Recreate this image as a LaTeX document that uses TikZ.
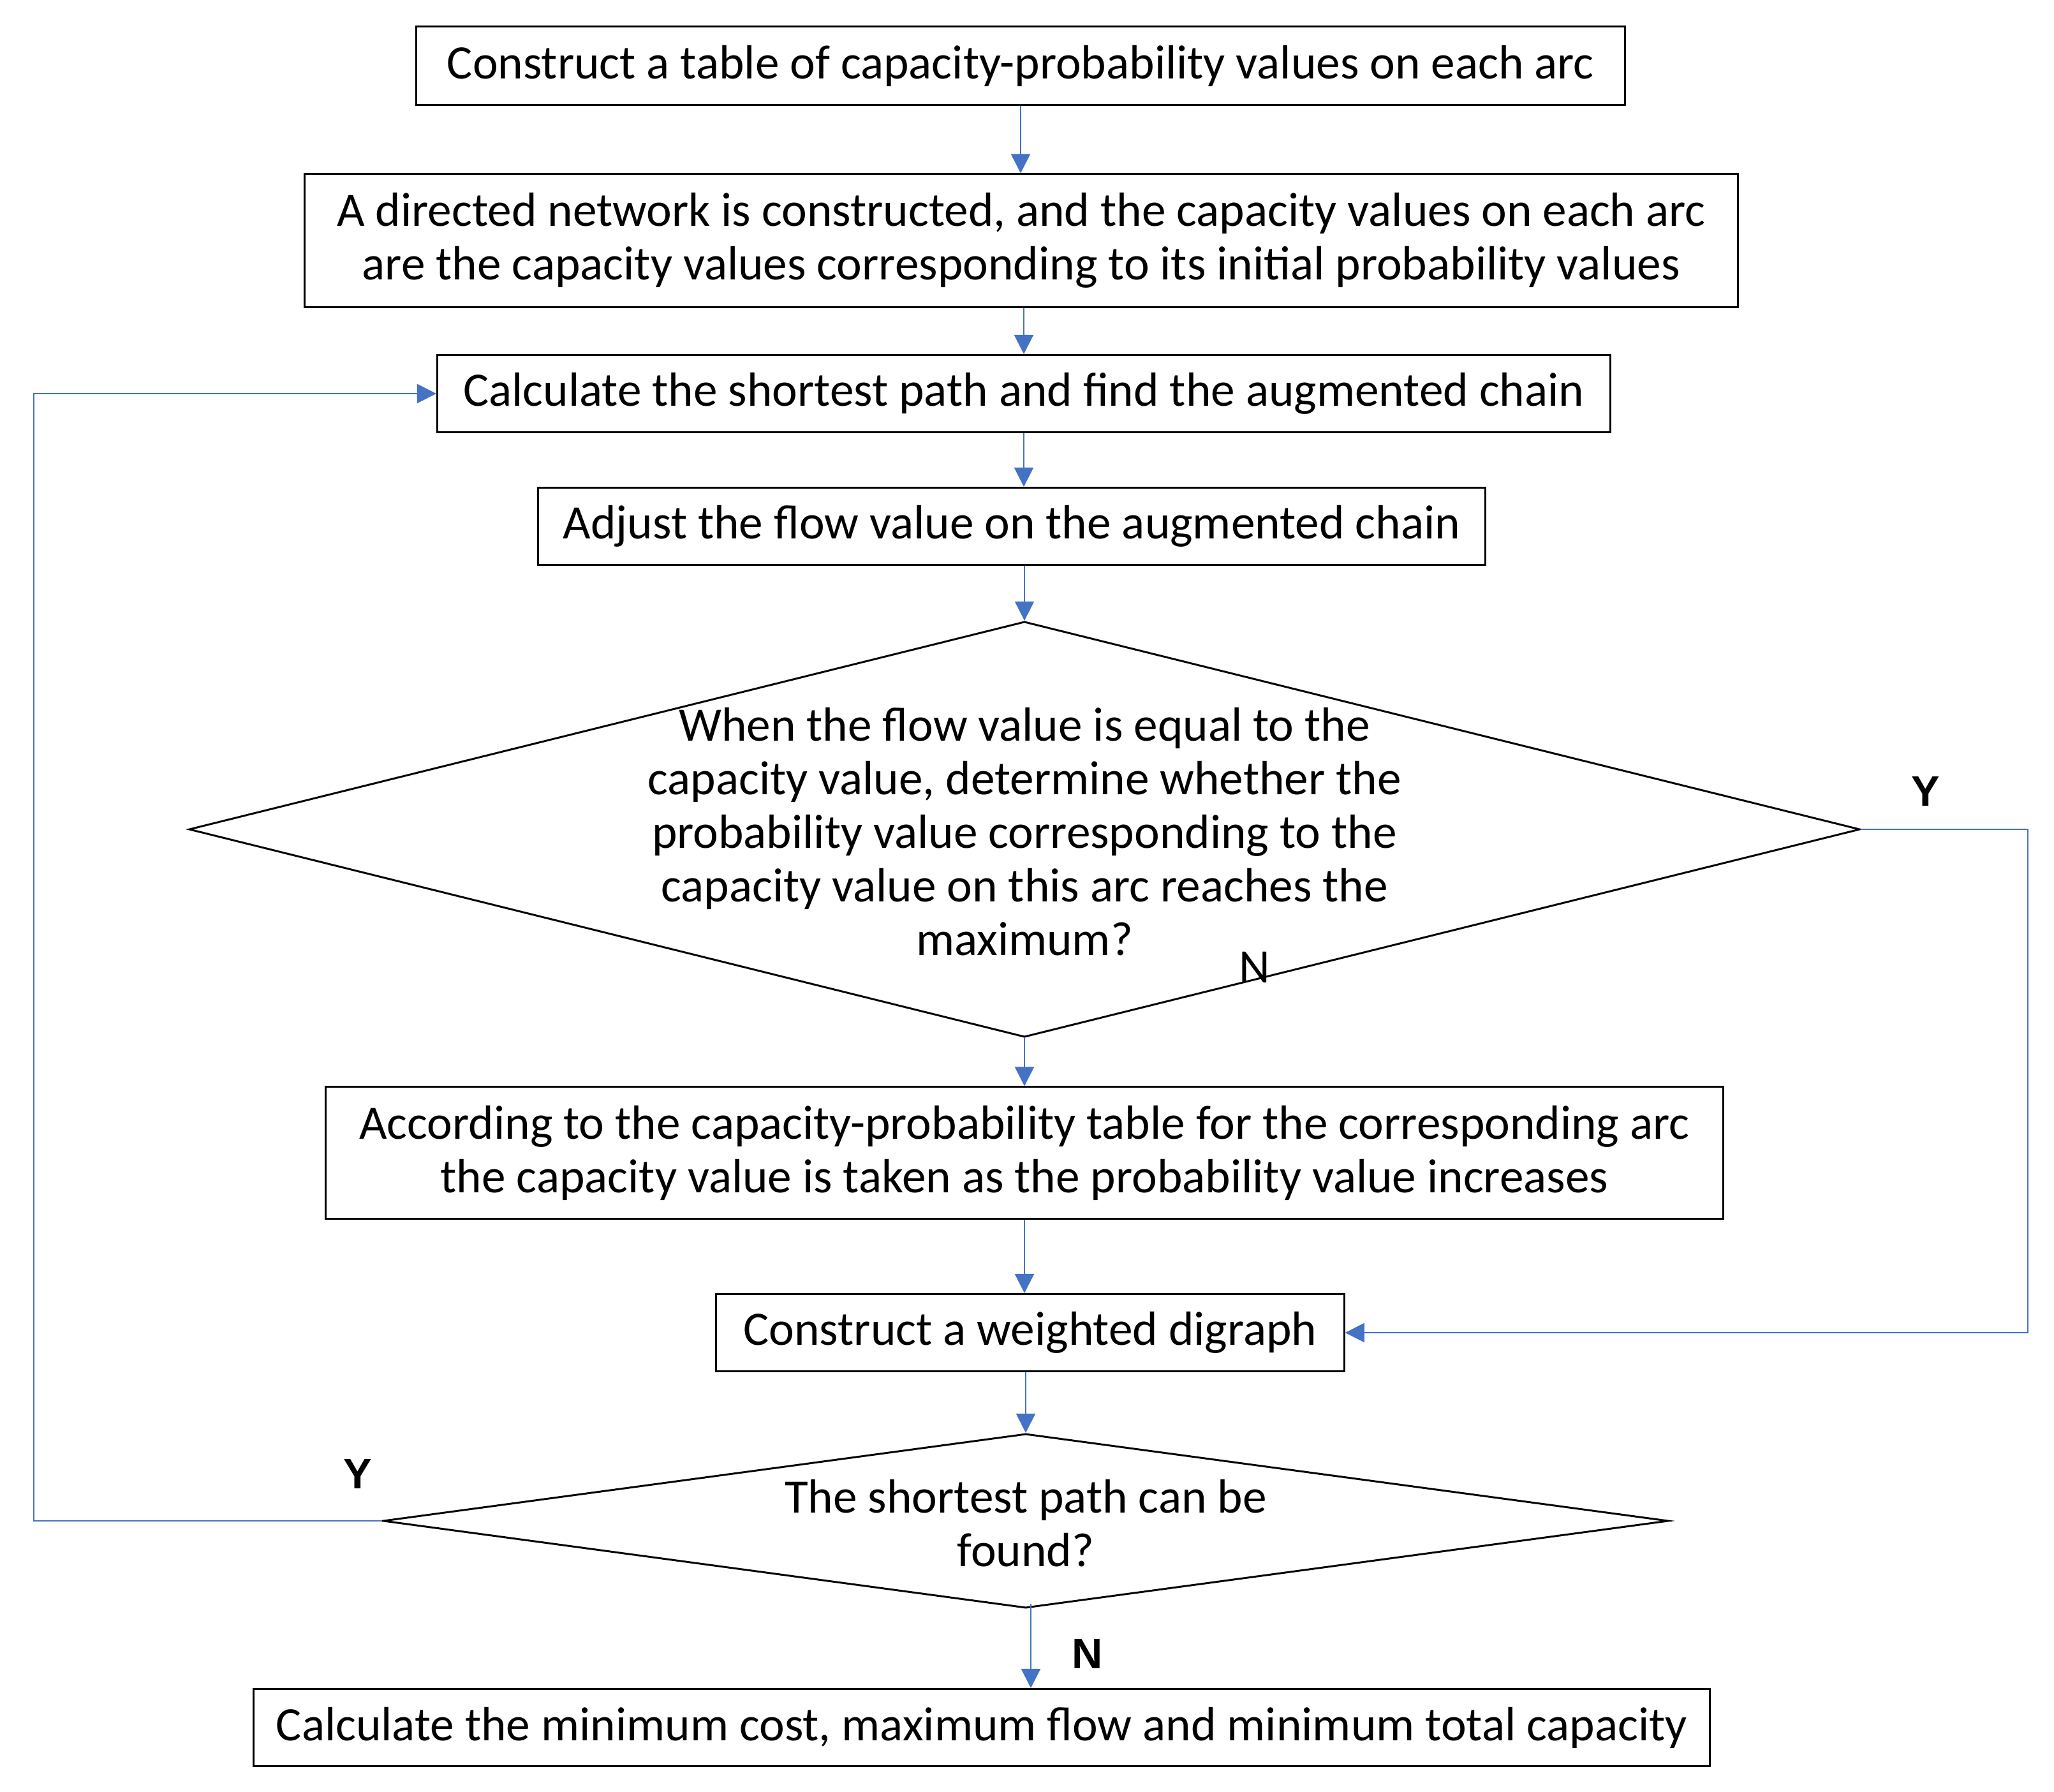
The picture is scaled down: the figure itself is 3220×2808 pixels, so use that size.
\documentclass[tikz,border=0pt]{standalone}
\usepackage{fontspec}
\setmainfont{Carlito}
\newfontfamily\lblfont{Liberation Sans}
\usetikzlibrary{arrows.meta,shapes.geometric}
\definecolor{connblue}{RGB}{68,114,196}
\tikzset{
  stepbox/.style={draw=black,line width=0.85pt,inner sep=0pt,align=center,font=\fontsize{21.4}{23.9}\selectfont},
  decide/.style={draw=black,diamond,line width=0.85pt,inner sep=0pt},
  dtext/.style={align=center,font=\fontsize{21.4}{23.9}\selectfont,inner sep=0pt},
  conn/.style={draw=connblue,line width=0.6pt,-{Triangle[length=0.3cm,width=0.3cm,fill=connblue]}},
  yn/.style={font=\lblfont\bfseries\fontsize{19}{22}\selectfont,inner sep=0pt}
}
\begin{document}
\begin{tikzpicture}[x=0.01cm,y=-0.01cm]
\useasboundingbox (0,0) rectangle (3220,2808);
\node[stepbox,minimum width=18.94cm,minimum height=1.23cm] (b1) at (1600,103) {Construct a table of capacity-probability values on each arc};
\node[stepbox,minimum width=22.45cm,minimum height=2.08cm] (b2) at (1601,377) {A directed network is constructed, and the capacity values on each arc\\are the capacity values corresponding to its initial probability values};
\node[stepbox,minimum width=18.38cm,minimum height=1.21cm] (b3) at (1605,617) {Calculate the shortest path and find the augmented chain};
\node[stepbox,minimum width=14.85cm,minimum height=1.21cm] (b4) at (1586,825) {Adjust the flow value on the augmented chain};
\node[decide,minimum width=26.18cm,minimum height=6.51cm] (d1) at (1606,1300) {};
\node[dtext] (t1) at (1606,1304) {When the flow value is equal to the\\capacity value, determine whether the\\probability value corresponding to the\\capacity value on this arc reaches the\\maximum?};
\node[stepbox,minimum width=21.89cm,minimum height=2.06cm] (b5) at (1606,1807) {According to the capacity-probability table for the corresponding arc\\the capacity value is taken as the probability value increases};
\node[stepbox,minimum width=9.84cm,minimum height=1.21cm] (b6) at (1615,2089) {Construct a weighted digraph};
\node[decide,minimum width=20.14cm,minimum height=2.73cm] (d2) at (1608,2384) {};
\node[dtext] (t2) at (1608,2388) {The shortest path can be\\found?};
\node[stepbox,minimum width=22.82cm,minimum height=1.21cm] (b7) at (1539,2708) {Calculate the minimum cost, maximum flow and minimum total capacity};
% connectors
\draw[conn] (b1.south) -- (b1.south |- b2.north);
\draw[conn] (b2.south -| b3.north) -- (b3.north);
\draw[conn] (b3.south) -- (b3.south |- b4.north);
\draw[conn] (b4.south -| d1.north) -- (d1.north);
\draw[conn] (d1.south) -- (d1.south |- b5.north);
\draw[conn] (b5.south) -- (b5.south |- b6.north);
\draw[conn] (b6.south -| d2.north) -- (d2.north);
\coordinate (dn) at (1616,2514);
\draw[conn] (dn) -- (dn |- b7.north);
\coordinate (rx) at (3179,1300);
\draw[conn] (d1.east) -- (rx) |- (b6.east);
\coordinate (lx) at (53,2384);
\draw[conn] (d2.west) -- (lx) |- (b3.west);
% labels
\node[yn] (ly1) at (3019,1240) {Y};
\node[yn] (ly2) at (561,2310) {Y};
\node[yn] (ln2) at (1705,2592) {N};
\node[dtext] (ln1) at (1967,1516) {N};
\end{tikzpicture}
\end{document}
